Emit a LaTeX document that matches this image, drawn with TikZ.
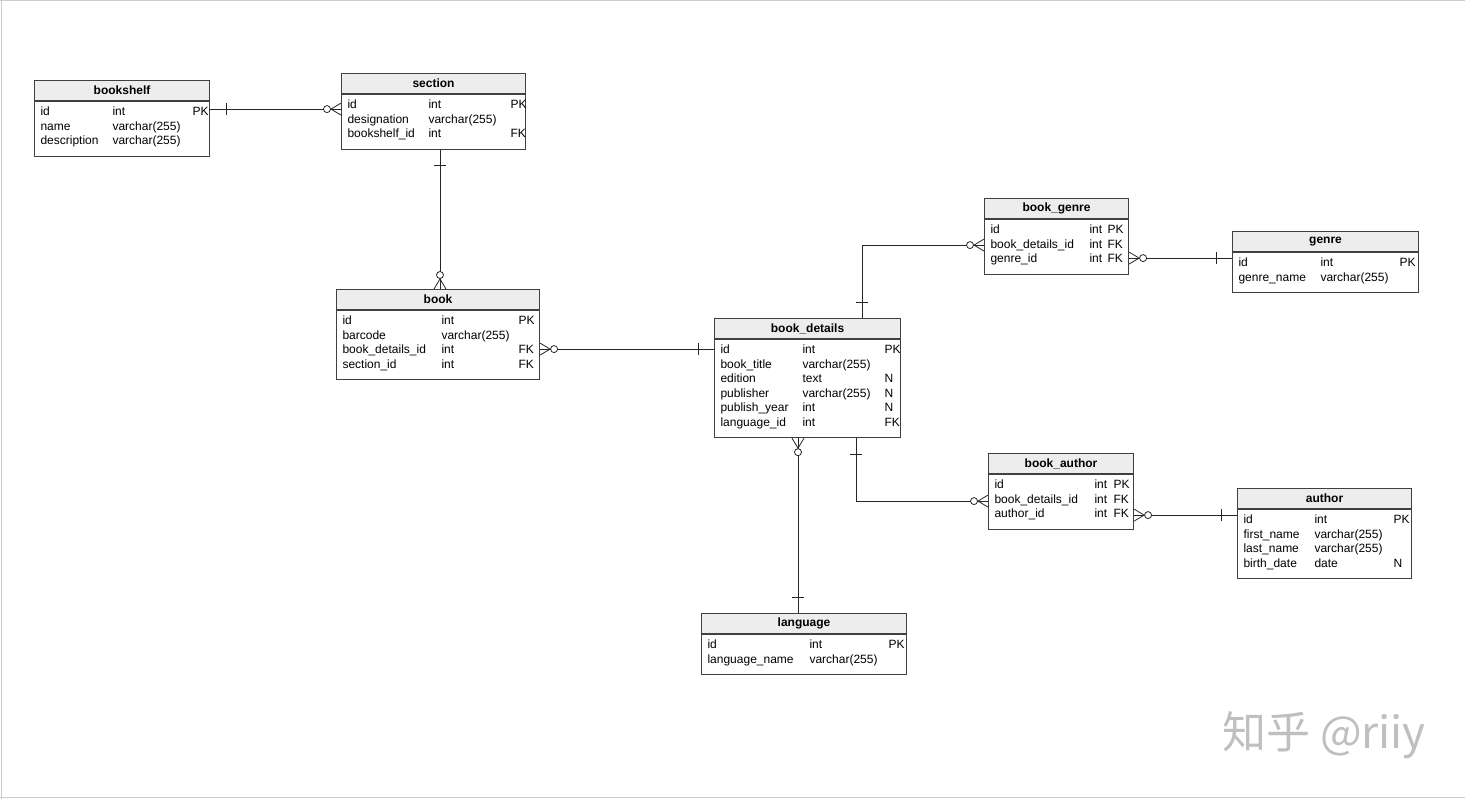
\documentclass[tikz,border=0pt]{standalone}
\usepackage{fontspec}
\setmainfont{Liberation Sans}
\newfontfamily\cjkfont{Noto Sans CJK SC}
\usetikzlibrary{positioning}
\setlength{\tabcolsep}{0pt}

\begin{document}
\begin{tikzpicture}[x=1pt, y=1pt, node distance=0pt]
	% Define styles
	\tikzstyle{entity} = [rectangle, draw=black!75, line width=1.1pt, fill=gray!14, font=\fontsize{12}{14.5}\selectfont\bfseries, minimum height=20pt, inner sep=0pt, anchor=north west]
	\tikzstyle{fields} = [rectangle, draw=black!75, line width=1.1pt, fill=white, font=\fontsize{12}{14.5}\selectfont, inner xsep=0pt, inner ysep=4pt, anchor=north]
	\tikzstyle{relation} = [draw=black!85, line width=0.8pt]
	\tikzset{
		zeromany/.pic={\draw[relation] (0,6) -- (10,0) -- (0,-6); \draw[relation, fill=white] (14,0) circle (3.5);},
		onebar/.pic={\draw[relation] (16,6) -- (16,-6);}
	}

	% Frame
	\useasboundingbox (0,0) rectangle (1465,-799);
	\draw[gray!40, line width=1pt] (0,-1) -- (1465,-1);
	\draw[gray!40, line width=1pt] (1,0) -- (1,-799);
	\draw[gray!40, line width=1pt] (0,-797) -- (1465,-797);

	% Nodes
	\node[entity, minimum width=175pt] (bookshelf) at (34,-80) {bookshelf};
	\node[fields, below=of bookshelf] (bookshelf-attr) {\begin{tabular}{@{\hspace{6pt}}p{72pt}p{80pt}p{17pt}@{}}
		id & int & PK\\ name & varchar(255) & \\ description & varchar(255) & \\[3pt]
	\end{tabular}};

	\node[entity, minimum width=184pt] (section) at (341,-73) {section};
	\node[fields, below=of section] (section-attr) {\begin{tabular}{@{\hspace{6pt}}p{81pt}p{82pt}p{15pt}@{}}
		id & int & PK\\ designation & varchar(255) & \\ bookshelf\_id & int & FK\\[3pt]
	\end{tabular}};

	\node[entity, minimum width=203pt] (book) at (336,-289) {book};
	\node[fields, below=of book] (book-attr) {\begin{tabular}{@{\hspace{6pt}}p{99pt}p{77pt}p{21pt}@{}}
		id & int & PK\\ barcode & varchar(255) & \\ book\_details\_id & int & FK\\ section\_id & int & FK\\[3pt]
	\end{tabular}};

	\node[entity, minimum width=186pt] (details) at (714,-318) {book\_details};
	\node[fields, below=of details] (details-attr) {\begin{tabular}{@{\hspace{6pt}}p{82pt}p{82pt}p{16pt}@{}}
		id & int & PK\\ book\_title & varchar(255) & \\ edition & text & N\\ publisher & varchar(255) & N\\
		publish\_year & int & N\\ language\_id & int & FK\\[3pt]
	\end{tabular}};

	\node[entity, minimum width=144pt] (bookgenre) at (984,-198) {book\_genre};
	\node[fields, below=of bookgenre] (bookgenre-attr) {\begin{tabular}{@{\hspace{6pt}}p{99pt}p{18pt}p{21pt}@{}}
		id & int & PK\\ book\_details\_id & int & FK\\ genre\_id & int & FK\\[3pt]
	\end{tabular}};

	\node[entity, minimum width=186pt] (genre) at (1232,-231) {genre};
	\node[fields, below=of genre] (genre-attr) {\begin{tabular}{@{\hspace{6pt}}p{82pt}p{79pt}p{19pt}@{}}
		id & int & PK\\ genre\_name & varchar(255) & \\[3pt]
	\end{tabular}};

	\node[entity, minimum width=145pt] (bookauthor) at (988,-453) {book\_author};
	\node[fields, below=of bookauthor] (bookauthor-attr) {\begin{tabular}{@{\hspace{6pt}}p{100pt}p{19pt}p{20pt}@{}}
		id & int & PK\\ book\_details\_id & int & FK\\ author\_id & int & FK\\[3pt]
	\end{tabular}};

	\node[entity, minimum width=174pt] (author) at (1237,-488) {author};
	\node[fields, below=of author] (author-attr) {\begin{tabular}{@{\hspace{6pt}}p{71pt}p{79pt}p{18pt}@{}}
		id & int & PK\\ first\_name & varchar(255) & \\ last\_name & varchar(255) & \\ birth\_date & date & N\\[3pt]
	\end{tabular}};

	\node[entity, minimum width=205pt] (language) at (701,-613) {language};
	\node[fields, below=of language] (language-attr) {\begin{tabular}{@{\hspace{6pt}}p{102pt}p{79pt}p{18pt}@{}}
		id & int & PK\\ language\_name & varchar(255) & \\[3pt]
	\end{tabular}};

	\node[text=gray!50, font=\cjkfont\fontsize{44}{44}\selectfont] (watermark) at (1324,-735) {知乎 @riiy};

	% Link ends
	\coordinate (shelf-out) at ([yshift=-8pt]bookshelf-attr.north east);
	\coordinate (section-in) at ([yshift=-15pt]section-attr.north west);
	\coordinate (section-out) at ([xshift=99pt]section-attr.south west);
	\coordinate (book-in) at ([xshift=104pt]book.north west);
	\coordinate (book-out) at ([yshift=-39pt]book-attr.north east);
	\coordinate (details-in) at ([yshift=-10pt]details-attr.north west);
	\coordinate (details-top) at ([xshift=148pt]details.north west);
	\coordinate (bookgenre-in) at ([yshift=-26pt]bookgenre-attr.north west);
	\coordinate (bookgenre-out) at ([yshift=-39pt]bookgenre-attr.north east);
	\coordinate (genre-in) at ([yshift=-6pt]genre-attr.north west);
	\coordinate (details-bottom) at ([xshift=142pt]details-attr.south west);
	\coordinate (bookauthor-in) at ([yshift=-27pt]bookauthor-attr.north west);
	\coordinate (bookauthor-out) at ([yshift=-41pt]bookauthor-attr.north east);
	\coordinate (author-in) at ([yshift=-6pt]author-attr.north west);
	\coordinate (details-lang) at ([xshift=84pt]details-attr.south west);
	\coordinate (language-in) at ([xshift=97pt]language.north west);

	% Arrows
	\draw[relation] (shelf-out) -- (section-in);
	\draw[relation] (section-out) -- (book-in);
	\draw[relation] (book-out) -- (details-in);
	\draw[relation] (details-top) |- (bookgenre-in);
	\draw[relation] (bookgenre-out) -- (genre-in);
	\draw[relation] (details-bottom) |- (bookauthor-in);
	\draw[relation] (bookauthor-out) -- (author-in);
	\draw[relation] (details-lang) -- (language-in);

	% Ends
	\pic at (shelf-out) {onebar};
	\pic[rotate=180] at (section-in) {zeromany};
	\pic[rotate=-90] at (section-out) {onebar};
	\pic[rotate=90] at (book-in) {zeromany};
	\pic at (book-out) {zeromany};
	\pic[rotate=180] at (details-in) {onebar};
	\pic[rotate=90] at (details-top) {onebar};
	\pic[rotate=180] at (bookgenre-in) {zeromany};
	\pic at (bookgenre-out) {zeromany};
	\pic[rotate=180] at (genre-in) {onebar};
	\pic[rotate=-90] at (details-bottom) {onebar};
	\pic[rotate=180] at (bookauthor-in) {zeromany};
	\pic at (bookauthor-out) {zeromany};
	\pic[rotate=180] at (author-in) {onebar};
	\pic[rotate=-90] at (details-lang) {zeromany};
	\pic[rotate=90] at (language-in) {onebar};
\end{tikzpicture}
\end{document}
